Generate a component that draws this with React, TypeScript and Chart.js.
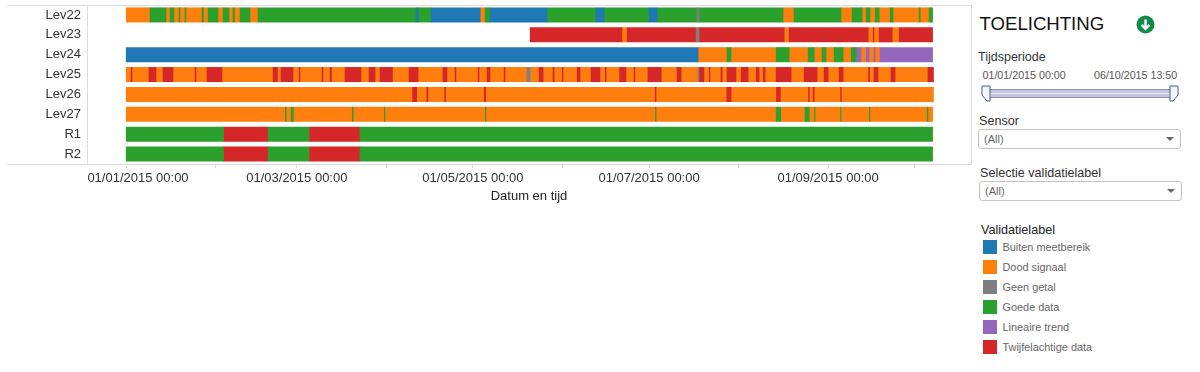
import React, { useEffect, useRef } from "react";
import { Chart, registerables } from "chart.js";

Chart.register(...registerables);

type Seg = [string, number];

const rowNames = ["Lev22", "Lev23", "Lev24", "Lev25", "Lev26", "Lev27", "R1", "R2"];

const validatieLabels = ["Buiten meetbereik", "Dood signaal", "Geen getal", "Goede data", "Lineaire trend", "Twijfelachtige data"];
const labelCodes = ["B", "D", "N", "G", "L", "T"];
const labelColours = ["#1f77b4", "#ff7f0e", "#7f7f7f", "#2ca02c", "#9467bd", "#d62728"];

// Day offsets since 01/01/2015 00:00
const monthStarts = [0, 31, 59, 90, 120, 151, 181, 212, 243, 273];
const monthLabels = ["01/01/2015 00:00", "", "01/03/2015 00:00", "", "01/05/2015 00:00", "", "01/07/2015 00:00", "", "01/09/2015 00:00", ""];

const rowStarts = [-0.1, 139.8, -0.1, -0.1, -0.1, -0.1, -0.1, -0.1];

// Each segment: [label code, day on which it ends]
const lev22: Seg[] = [["D",8.14],["G",13.68],["D",15.07],["G",16.45],["D",18.19],["G",18.53],["D",20.26],["G",20.61],["D",26.15],["G",26.67],["D",28.23],["G",31.7],["D",33.43],["G",35.51],["D",36.89],["G",37.41],["D",39.32],["G",42.78],["D",45.55],["G",100.3],["B",101],["G",105.5],["B",122.5],["D",124.2],["G",125.9],["B",145.7],["G",162.6],["B",165.4],["G",181],["B",183.8],["G",197.6],["N",198.3],["G",227.4],["D",231.2],["G",247.5],["D",251.3],["G",254.8],["D",256.2],["G",257.5],["D",259.3],["G",260.7],["D",264.5],["G",265.5],["D",274.5],["G",274.9],["D",278],["G",279.2]];

const lev23: Seg[] = [["T",171.6],["D",173.4],["T",197.3],["N",198.3],["T",227.8],["D",229.5],["T",256.9],["D",258.6],["T",258.9],["D",260.7],["T",265.2],["D",267.6],["T",279.2]];

const lev24: Seg[] = [["B",198],["D",208],["G",209.4],["D",225],["G",229.5],["D",236.1],["G",238.2],["D",240.9],["G",242.3],["D",245.1],["G",248.2],["D",251],["G",252.7],["L",254.4],["D",256.2],["L",257.2],["D",258.9],["L",259.3],["D",261],["L",279.2]];

const lev25: Seg[] = [["D",1.56],["T",1.91],["D",7.79],["T",10.22],["D",12.64],["T",16.11],["D",23.73],["T",24.07],["D",27.89],["T",33.08],["D",50.75],["T",52.31],["D",53.52],["T",57.68],["D",59.75],["T",60.1],["D",67.72],["T",68.07],["D",70.49],["T",71.01],["D",75.69],["T",81.23],["D",84],["T",86.08],["D",87.81],["T",92.14],["D",97.86],["T",100.98],["D",109.6],["T",111],["D",113.8],["T",114.1],["D",121.8],["T",122.1],["D",124.9],["T",125.9],["D",130.8],["T",131.1],["D",138.7],["N",139.8],["D",142.9],["T",144.3],["D",147.7],["T",148.1],["D",150.9],["T",151.2],["D",156.1],["T",157.1],["D",160.9],["T",164],["D",165.8],["T",166.1],["D",170.8],["T",173],["D",175.8],["T",176.1],["D",180.6],["T",185.2],["D",190.7],["T",192.1],["D",198],["N",198.3],["T",200],["D",201.8],["T",202.1],["D",205.9],["T",206.3],["D",208],["T",211.1],["D",212.9],["T",215.3],["D",218.1],["T",219.1],["D",220.5],["T",221.2],["D",225],["T",230.2],["D",234.7],["T",239.2],["D",241.6],["T",243],["D",246.8],["T",248.2],["D",257],["T",257.4],["D",258.9],["T",260.3],["D",264.8],["T",266.2],["D",277.6],["T",279.5]];

const lev26: Seg[] = [["D",99.1],["T",100.5],["D",104],["T",104.4],["D",110.2],["T",110.5],["D",123.9],["T",124.4],["D",183.1],["T",183.4],["D",207.9],["T",209.4],["D",225.1],["T",226.5],["D",236.2],["T",236.5],["D",237.8],["T",238.2],["D",247.3],["T",247.6],["D",279.5]];

const lev27: Seg[] = [["D",55],["G",55.3],["D",57],["G",57.8],["D",78.2],["G",78.5],["D",89.3],["G",89.5],["D",124.3],["G",124.5],["D",183.2],["G",183.4],["D",225],["G",226.6],["D",235],["G",236.5],["D",238.3],["G",238.5],["D",247.3],["G",247.5],["D",257.3],["G",257.5],["D",277.3],["G",277.6],["D",279.2]];

const r1: Seg[] = [["G",33.6],["T",49.1],["G",63.2],["T",80.9],["G",279.2]];
const r2: Seg[] = [["G",33.6],["T",49.1],["G",63.2],["T",80.9],["G",279.2]];

const rows = [lev22, lev23, lev24, lev25, lev26, lev27, r1, r2];

const xMin = -13.68;
const xMax = 292.5;
const LINE = "#dcdcdc";
const FONT = "'Liberation Sans', Arial, sans-serif";

function buildDatasets() {
  return labelCodes.map((code, li) => {
    const data: { x: [number, number]; y: string }[] = [];
    rows.forEach((segs, ri) => {
      let start = rowStarts[ri];
      segs.forEach(([c, end]) => {
        if (c === code) data.push({ x: [start, end], y: rowNames[ri] });
        start = end;
      });
    });
    return {
      label: validatieLabels[li],
      data,
      backgroundColor: labelColours[li],
      barThickness: 14.4,
      grouped: false,
      borderWidth: 0,
      inflateAmount: 0.33,
      order: code === "D" ? 10 : 0,
    };
  });
}

const framePlugin = {
  id: "frame",
  beforeDraw(chart: any) {
    const items = chart.scales.x.getLabelItems();
    if (items[0] && !items[0].__shifted) {
      items[0].options.translation[0] += 11.5;
      items[0].__shifted = true;
    }
    const { ctx, chartArea } = chart;
    ctx.save();
    ctx.strokeStyle = LINE;
    ctx.lineWidth = 1;
    ctx.beginPath();
    ctx.moveTo(7, chartArea.top + 0.5);
    ctx.lineTo(chartArea.right + 0.5, chartArea.top + 0.5);
    ctx.moveTo(7, chartArea.bottom + 0.5);
    ctx.lineTo(chartArea.right + 0.5, chartArea.bottom + 0.5);
    ctx.moveTo(chartArea.right + 0.5, chartArea.top);
    ctx.lineTo(chartArea.right + 0.5, chartArea.bottom);
    ctx.stroke();
    ctx.restore();
  },
};

const text = (left: number, centerY: number, size: number, color: string): React.CSSProperties => ({
  position: "absolute",
  left,
  top: centerY - 10,
  height: 20,
  lineHeight: "20px",
  fontSize: size,
  color,
  whiteSpace: "nowrap",
});

function Dropdown({ left, top, width, height }: { left: number; top: number; width: number; height: number }) {
  return (
    <div style={{ position: "absolute", left, top, width, height, boxSizing: "border-box", border: "1px solid #c4c4c4", borderRadius: 3, background: "#fff" }}>
      <span style={{ position: "absolute", left: 5, top: 0, lineHeight: `${height - 2}px`, fontSize: 11, color: "#666" }}>(All)</span>
      <svg style={{ position: "absolute", right: 5, top: height / 2 - 4 }} width="10" height="6">
        <path d="M1 1 L9 1 L5 5 Z" fill="#666" />
      </svg>
    </div>
  );
}

function Handle({ left, flip }: { left: number; flip?: boolean }) {
  return (
    <svg style={{ position: "absolute", left, top: 85, transform: flip ? "scaleX(-1)" : undefined }} width="10" height="17">
      <path d="M1 1 L9 1 L9 16 L6 16 L1 10 Z" fill="#f4f6fb" stroke="#4a5f86" strokeWidth="1" />
    </svg>
  );
}

export default function App() {
  const ref = useRef<HTMLCanvasElement>(null);

  useEffect(() => {
    const noPad = (scale: any) => {
      scale.paddingTop = 0;
      scale.paddingBottom = 0;
      scale.paddingLeft = 0;
      scale.paddingRight = 0;
    };
    const chart = new Chart(ref.current!, {
      type: "bar",
      data: { labels: rowNames, datasets: buildDatasets() as any },
      plugins: [framePlugin],
      options: {
        indexAxis: "y",
        animation: false,
        responsive: false,
        layout: { padding: { top: 5, left: 0, right: 1, bottom: 0 } },
        plugins: { legend: { display: false }, tooltip: { enabled: false }, title: { display: false } },
        scales: {
          x: {
            type: "linear",
            min: xMin,
            max: xMax,
            afterBuildTicks(scale: any) {
              scale.ticks = monthStarts.map((value) => ({ value }));
            },
            afterFit(scale: any) {
              scale.height = 40;
              noPad(scale);
            },
            grid: { drawOnChartArea: false, drawTicks: true, tickLength: 4, color: LINE },
            border: { display: true, color: LINE },
            ticks: {
              autoSkip: false,
              maxRotation: 0,
              minRotation: 0,
              padding: 3,
              color: "#333",
              font: { family: FONT, size: 13 },
              callback: (_v: any, i: number) => monthLabels[i],
            },
            title: {
              display: true,
              text: "Datum en tijd",
              color: "#222",
              font: { family: FONT, size: 13 },
              padding: { top: 0, bottom: 0 },
            },
          },
          y: {
            type: "category",
            afterFit(scale: any) {
              scale.width = 87;
              noPad(scale);
            },
            grid: { display: false, drawTicks: false },
            border: { display: true, color: LINE },
            ticks: { padding: 6, color: "#333", font: { family: FONT, size: 13 } },
          },
        },
      } as any,
    });
    return () => chart.destroy();
  }, []);

  return (
    <div style={{ position: "fixed", left: 0, top: 0, width: 1200, height: 372, overflow: "hidden", background: "#fff", fontFamily: FONT }}>
      <canvas ref={ref} width={972} height={204} style={{ position: "absolute", left: 0, top: 0, display: "block" }} />

      <div style={text(979.5, 24, 18.6, "#111")}>TOELICHTING</div>
      <svg style={{ position: "absolute", left: 1136, top: 15 }} width="19" height="19">
        <circle cx="9.5" cy="9.5" r="9" fill="#0f8a48" />
        <path d="M9.5 4.5 V13.5 M5.5 9.8 L9.5 13.8 L13.5 9.8" stroke="#fff" strokeWidth="2.4" fill="none" />
      </svg>

      <div style={text(978, 57, 12.5, "#333")}>Tijdsperiode</div>
      <div style={text(982.5, 74.5, 10.7, "#555")}>01/01/2015 00:00</div>
      <div style={text(1094, 74.5, 10.7, "#555")}>06/10/2015 13:50</div>
      <div style={{ position: "absolute", left: 986, top: 89, width: 188, height: 9, boxSizing: "border-box", background: "#c3c3e2", borderTop: "1px solid #8f8fb0", borderBottom: "1px solid #8f8fb0" }}>
        <div style={{ position: "absolute", left: 0, right: 0, top: 3, height: 1, background: "#f0f0fa" }} />
      </div>
      <Handle left={981} />
      <Handle left={1169} flip />

      <div style={text(979, 121, 12.6, "#333")}>Sensor</div>
      <Dropdown left={978} top={129} width={203} height={20} />
      <div style={text(980, 172.5, 12.6, "#333")}>Selectie validatielabel</div>
      <Dropdown left={979} top={181} width={203} height={20} />

      <div style={text(981, 230, 12.6, "#222")}>Validatielabel</div>
      {validatieLabels.map((label, i) => (
        <React.Fragment key={label}>
          <div style={{ position: "absolute", left: 983, top: 240 + i * 20, width: 14, height: 14, background: labelColours[i] }} />
          <div style={text(1002.5, 246.7 + i * 20, 10.9, "#666")}>{label}</div>
        </React.Fragment>
      ))}
    </div>
  );
}
